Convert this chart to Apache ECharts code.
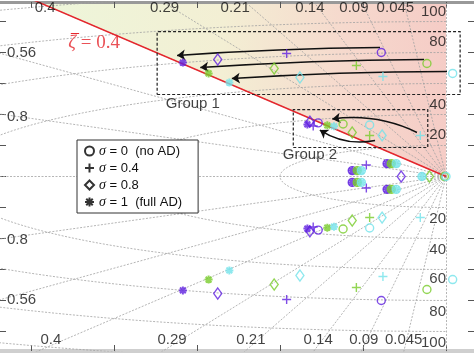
<!DOCTYPE html>
<html>
<head>
<meta charset="utf-8">
<script src="https://cdn.jsdelivr.net/npm/echarts@6/dist/echarts.min.js"></script>
<style>
  html, body { margin: 0; padding: 0; background: #fff; }
  #chart { width: 474px; height: 354px; }
</style>
</head>
<body>
<div id="chart"></div>
<script>
// pole locations [re, im], upper half only (conjugates are drawn too)
// purple system
const purpleS0 = [[-7.8, 80.0], [-15.4, 34.6], [-11.3, 3.8], [-7.1, 8.3]];
const purpleS04 = [[-19.2, 79.4], [-16.0, 32.6], [-9.6, 7.4]];
const purpleS08 = [[-27.5, 75.5], [-16.4, 35.4], [-5.4, 0]];
const purpleS1 = [[-31.7, 73.5], [-16.7, 33.6], [-11.3, 3.8], [-7.1, 8.3]];
// green system
const greenS0 = [[-2.3, 72.9], [-12.4, 33.9], [-10.7, 3.8], [-6.6, 8.3], [-0.2, 0]];
const greenS04 = [[-10.8, 71.6], [-9.2, 26.5]];
const greenS08 = [[-20.7, 69.7], [-11.3, 28.4], [-2.0, 0]];
const greenS1 = [[-28.6, 66.5], [-14.3, 33.0], [-10.7, 3.8], [-6.6, 8.3]];
// cyan system
const cyanS0 = [[0.8, 66.5], [-9.2, 33.2], [-10.2, 3.8], [-6.0, 8.3], [0, 0], [-2.9, 0]];
const cyanS04 = [[-7.6, 64.5], [-3.1, 26.5]];
const cyanS08 = [[-17.6, 63.9], [-7.7, 26.5]];
const cyanS1 = [[-26.1, 60.6], [-13.5, 32.4], [-10.2, 3.8], [-6.0, 8.3], [-2.9, 0]];

// grid values
const zetaValues = [0.045, 0.09, 0.14, 0.21, 0.29, 0.4, 0.56, 0.8];
const wnValues = [20, 40, 60, 80, 100, 120];
const xTicks = [-50, -40, -30, -20, -10, 0];
const yTicks = [-100, -80, -60, -40, -20, 0, 20, 40, 60, 80, 100];
const zetaBar = 0.4;

// annotations (data units)
const arrows = [
  { from: [-7.95, 83.2], to: [-32.4, 78.1], bend: -0.015 },
  { from: [-2.65, 75.5], to: [-29.6, 70.3], bend: -0.015 },
  { from: [0.12, 67.7], to: [-25.8, 63.2], bend: -0.015 },
  { from: [-3.5, 28.4], to: [-13.7, 37.1], bend: -0.15 },
  { from: [-8.55, 23.2], to: [-15.2, 30.0], bend: 0.2 }
];
const boxes = [
  [[-34.8, 52.9], [1.7, 93.5]],
  [[-18.4, 18.7], [-2.2, 43.2]]
];
const topZetaLabels = [['0.4', -48.3], ['0.29', -33.9], ['0.21', -25.4], ['0.14', -16.4], ['0.09', -11.1], ['0.045', -6.1]];
const bottomZetaLabels = [['0.4', -47.6], ['0.29', -33.0], ['0.21', -23.5], ['0.14', -15.4], ['0.09', -9.9], ['0.045', -5.1]];
const leftZetaLabels = [['0.56', 79.7], ['0.8', 38.4], ['0.8', -41.0], ['0.56', -79.7]];
const wnLabels = [['100', 106.1], ['80', 86.8], ['40', 46.1], ['20', 26.8],
  ['20', -27.4], ['40', -47.4], ['60', -66.1], ['80', -87.4], ['100', -107.4]];

const X_MIN = -53.73, X_MAX = 3.37, Y_MAX = 112.6;
const PURPLE = '#5f1fe0', GREEN = '#78cc2a', CYAN = '#72e2ea';

const PLUS = 'path://M0,-5L0,5M-5,0L5,0';
const STAR = 'path://M0,-5L0,5M-5,0L5,0M-3.6,-3.6L3.6,3.6M-3.6,3.6L3.6,-3.6';
const shapes = [
  { name: 'σ = 0  (no AD)', symbol: 'circle', size: 8 },
  { name: 'σ = 0.4', symbol: PLUS, size: 9 },
  { name: 'σ = 0.8', symbol: 'diamond', size: [8, 11] },
  { name: 'σ = 1  (full AD)', symbol: STAR, size: 8 }
];

function withConj(pts) {
  const out = [];
  pts.forEach(p => {
    out.push(p);
    if (p[1] !== 0) out.push([p[0], -p[1]]);
  });
  return out;
}

const chart = echarts.init(document.getElementById('chart'));
const series = [];

// shaded area between zeta=0.4 and imaginary axis (upper half)
const topX = -Y_MAX * zetaBar / Math.sqrt(1 - zetaBar * zetaBar);
series.push({
  type: 'custom', z: 0, silent: true,
  data: [0],
  renderItem: function (params, api) {
    const pts = [[0, 0], [0, Y_MAX], [topX, Y_MAX]].map(p => api.coord(p));
    return {
      type: 'polygon',
      shape: { points: pts },
      style: {
        fill: new echarts.graphic.LinearGradient(0, 0, 1, 0, [
          { offset: 0, color: '#edf6da' },
          { offset: 0.45, color: '#f3efd4' },
          { offset: 0.75, color: '#f6d9cd' },
          { offset: 1, color: '#f5ccc6' }
        ])
      }
    };
  }
});

// sgrid: damping rays and wn circles
const R = 400;
const rays = [];
zetaValues.concat([0, 1]).forEach(z => {
  const s = Math.sqrt(1 - z * z);
  rays.push({ coords: [[0, 0], [-R * z, R * s]] });
  if (z !== 1) rays.push({ coords: [[0, 0], [-R * z, -R * s]] });
});
const circles = wnValues.map(wn => {
  const c = [];
  for (let a = 90; a <= 270; a += 2) {
    const t = a * Math.PI / 180;
    c.push([wn * Math.cos(t), wn * Math.sin(t)]);
  }
  return { coords: c };
});
const gridStyle = { color: '#a2a2a2', width: 0.8, type: [2, 1.5], opacity: 1 };
series.push({ type: 'lines', coordinateSystem: 'cartesian2d', z: 1, silent: true, clip: true,
  lineStyle: gridStyle, data: rays });
series.push({ type: 'lines', coordinateSystem: 'cartesian2d', polyline: true, z: 1, silent: true, clip: true,
  lineStyle: gridStyle, data: circles });

// red zeta-bar line
series.push({ type: 'lines', coordinateSystem: 'cartesian2d', z: 2, silent: true, clip: true,
  lineStyle: { color: '#e5262c', width: 1.5, opacity: 1 },
  data: [{ coords: [[0, 0], [-R * zetaBar, R * Math.sqrt(1 - zetaBar * zetaBar)]] }] });

// group boxes
series.push({ type: 'lines', coordinateSystem: 'cartesian2d', polyline: true, z: 3, silent: true,
  lineStyle: { color: '#222', width: 1.2, type: [3, 2], opacity: 1 },
  data: boxes.map(b => ({ coords: [[b[0][0], b[0][1]], [b[1][0], b[0][1]], [b[1][0], b[1][1]], [b[0][0], b[1][1]], [b[0][0], b[0][1]]] })) });

// arrows
arrows.forEach(a => {
  series.push({ type: 'lines', coordinateSystem: 'cartesian2d', z: 4, silent: true,
    symbol: ['none', 'arrow'], symbolSize: [2, 8],
    lineStyle: { color: '#111', width: 1.5, curveness: a.bend, opacity: 1 },
    data: [{ coords: [a.from, a.to] }] });
});

// poles
const systems = [
  { color: PURPLE, sets: [purpleS0, purpleS04, purpleS08, purpleS1] },
  { color: GREEN, sets: [greenS0, greenS04, greenS08, greenS1] },
  { color: CYAN, sets: [cyanS0, cyanS04, cyanS08, cyanS1] }
];
systems.forEach(sys => {
  sys.sets.forEach((pts, k) => {
    const sh = shapes[k];
    series.push({ type: 'scatter', z: 5, silent: true,
      symbol: sh.symbol, symbolSize: sh.size,
      itemStyle: { color: 'transparent', borderColor: sys.color, borderWidth: k === 3 ? 2 : 1.4 },
      data: withConj(pts) });
  });
});

// legend entries (black)
shapes.forEach((sh, k) => {
  series.push({ type: 'scatter', name: sh.name, symbol: sh.symbol, symbolSize: sh.size,
    itemStyle: { color: 'transparent', borderColor: '#000', borderWidth: k === 3 ? 2 : 1.3 },
    data: [] });
});

// text labels
const labelData = [];
const txt = { fontSize: 15, color: '#111', fontFamily: 'Liberation Sans, Arial, sans-serif' };
topZetaLabels.forEach(l => labelData.push({ value: [l[1], 108.7], label: Object.assign({ formatter: l[0], align: 'center' }, txt) }));
bottomZetaLabels.forEach(l => labelData.push({ value: [l[1], -105.5], label: Object.assign({ formatter: l[0], align: 'center' }, txt) }));
leftZetaLabels.forEach(l => labelData.push({ value: [-52.9, l[1]], label: Object.assign({ formatter: l[0], align: 'left' }, txt) }));
wnLabels.forEach(l => labelData.push({ value: [0, l[1]], label: Object.assign({ formatter: l[0], align: 'right' }, txt) }));
labelData.push({ value: [-30.5, 46.8], label: Object.assign({ formatter: 'Group 1', align: 'center' }, txt) });
labelData.push({ value: [-16.4, 13.9], label: Object.assign({ formatter: 'Group 2', align: 'center' }, txt) });
const serif = 'Liberation Serif, DejaVu Serif, serif';
labelData.push({ value: [-42.4, 86.1], label: {
  formatter: '{z|ζ} = 0.4', align: 'center', fontSize: 19, color: '#e5262c', fontFamily: serif,
  rich: { z: { fontStyle: 'italic', fontSize: 19, color: '#e5262c', fontFamily: serif } }
} });
series.push({ type: 'scatter', z: 6, silent: true, symbolSize: 0,
  label: { show: true, position: 'inside', verticalAlign: 'middle' },
  data: labelData });
// bar over zeta
series.push({ type: 'lines', coordinateSystem: 'cartesian2d', z: 6, silent: true,
  lineStyle: { color: '#e5262c', width: 1.2, opacity: 1 },
  data: [{ coords: [[-45.2, 92.2], [-44.2, 92.2]] }] });

const tickStyle = { show: true, inside: true, length: 6, lineStyle: { color: '#555', width: 1 } };

chart.setOption({
  animation: false,
  backgroundColor: '#fff',
  grid: { left: 0, right: 0, top: 2, bottom: 3 },
  xAxis: [
    { type: 'value', min: X_MIN, max: X_MAX, position: 'bottom',
      axisLine: { show: true, onZero: false, lineStyle: { color: '#cfcfcf', width: 4 } },
      axisTick: Object.assign({ customValues: xTicks }, tickStyle),
      axisLabel: { show: false }, splitLine: { show: false } },
    { type: 'value', min: X_MIN, max: X_MAX, position: 'top',
      axisLine: { show: true, onZero: false, lineStyle: { color: '#999', width: 3 } },
      axisTick: Object.assign({ customValues: xTicks }, tickStyle),
      axisLabel: { show: false }, splitLine: { show: false } }
  ],
  yAxis: [
    { type: 'value', min: -Y_MAX, max: Y_MAX, position: 'left',
      axisLine: { show: false, onZero: false },
      axisTick: Object.assign({ customValues: yTicks }, tickStyle),
      axisLabel: { show: false }, splitLine: { show: false } },
    { type: 'value', min: -Y_MAX, max: Y_MAX, position: 'right',
      axisLine: { show: false, onZero: false },
      axisTick: Object.assign({ customValues: yTicks }, tickStyle),
      axisLabel: { show: false }, splitLine: { show: false } }
  ],
  legend: {
    data: shapes.map(s => s.name),
    orient: 'vertical', left: 77, top: 140,
    backgroundColor: '#fff', borderColor: '#333', borderWidth: 1,
    padding: [4, 16, 4, 7], itemGap: 3, itemWidth: 9, itemHeight: 9,
    formatter: name => '{s|σ}' + name.slice(1),
    textStyle: { fontSize: 13, color: '#111', fontFamily: 'Liberation Sans, Arial, sans-serif',
      rich: { s: { fontStyle: 'italic', fontSize: 14, fontFamily: serif } } }
  },
  series: series
});
</script>
</body>
</html>
